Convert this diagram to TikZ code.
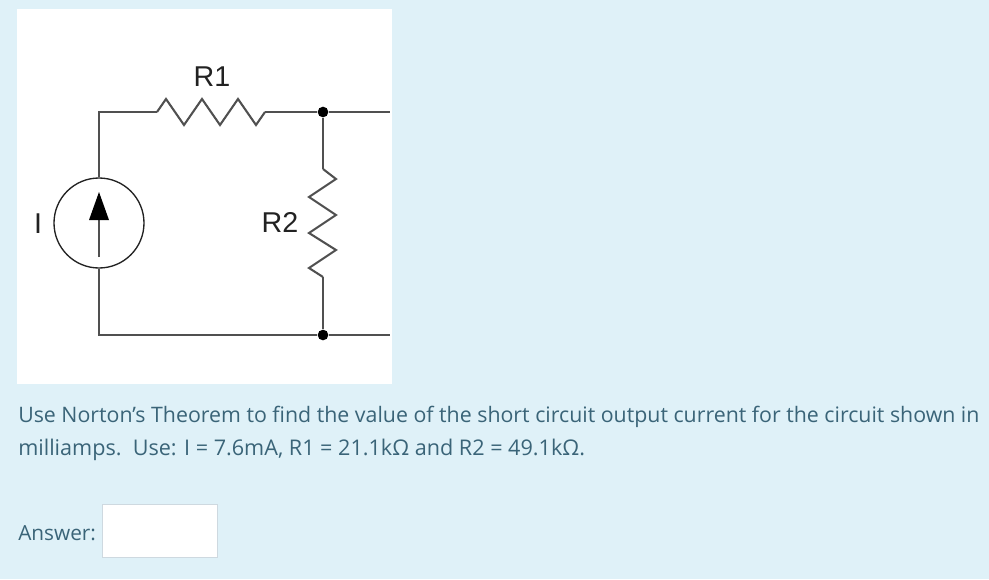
\documentclass[tikz,border=0pt]{standalone}
\usepackage{fontspec}
\setmainfont{Open Sans}
\newfontfamily\arialf{Liberation Sans}
\definecolor{pagebg}{HTML}{DFF1F8}
\definecolor{qtext}{HTML}{3A6478}
\definecolor{wire}{HTML}{505050}
\definecolor{boxedge}{HTML}{CED9E0}
\definecolor{labelc}{HTML}{222222}
\tikzset{
  wireline/.style={draw=wire,line width=1.55pt,line join=miter},
  junction/.style={circle,fill=black,inner sep=0pt,minimum size=8pt},
  complabel/.style={font=\arialf\fontsize{21.5}{21.5}\selectfont,text=labelc,inner sep=0pt},
  qtextst/.style={text=qtext,inner sep=0pt,anchor=base west},
}
\begin{document}
\begin{tikzpicture}[x=0.75pt,y=-0.75pt]
\useasboundingbox (0,0) rectangle (989,579);
\fill[pagebg] (0,0) rectangle (989,579);
\fill[white] (17,9) rectangle (392,384);
% nodes
\node[circle,draw=labelc,line width=1pt,minimum size=67.5pt,inner sep=0pt] (src) at (99,223) {};
\node[junction] (jt) at (323,112) {};
\node[junction] (jb) at (323,335) {};
\coordinate (tl) at (99,112);
\coordinate (bl) at (99,335);
\coordinate (tr) at (390,112);
\coordinate (br) at (390,335);
\coordinate (r1a) at (157,112);
\coordinate (r1b) at (265,112);
\coordinate (r2a) at (323,169);
\coordinate (r2b) at (323,277);
\coordinate (arrowtail) at (99,257);
\coordinate (arrowbase) at (99,219);
% wires
\draw[wireline] (src.north) -- (tl) -- (r1a);
\draw[wireline] (r1a) -- (166,99) -- (184,125) -- (202,99) -- (220,125) -- (238,99) -- (256,125) -- (r1b);
\draw[wireline] (r1b) -- (jt) -- (tr);
\draw[wireline] (jt) -- (r2a);
\draw[wireline] (r2a) -- (336,179) -- (309,197) -- (336,215) -- (309,233) -- (336,250) -- (309,268) -- (r2b);
\draw[wireline] (r2b) -- (jb);
\draw[wireline] (src.south) -- (bl) -- (jb) -- (br);
% source arrow
\draw[wireline] (arrowtail) -- (arrowbase);
\fill[black] (99,192) -- (109,220) -- (89,220) -- cycle;
% labels
\node[complabel] (lR1) at (212,77) {R1};
\node[complabel] (lR2) at (280,222) {R2};
\node[complabel] (lI) at (38,224) {I};
% question text
\node[qtextst,font=\fontsize{16}{16}\selectfont] (q1) at (18,422) {Use Norton’s Theorem to find the value of the short circuit output current for the circuit shown in};
\node[qtextst,font=\fontsize{16.2}{16.2}\selectfont] (q2) at (18,455) {milliamps.\ \ Use: I = 7.6mA, R1 = 21.1kΩ and R2 = 49.1kΩ.};
\node[qtextst,font=\fontsize{15.6}{15.6}\selectfont] (ans) at (18,540) {Answer:};
\node[draw=boxedge,fill=white,line width=0.75pt,minimum width=86pt,minimum height=39.75pt,inner sep=0pt] (box) at (159.7,531) {};
\end{tikzpicture}
\end{document}
